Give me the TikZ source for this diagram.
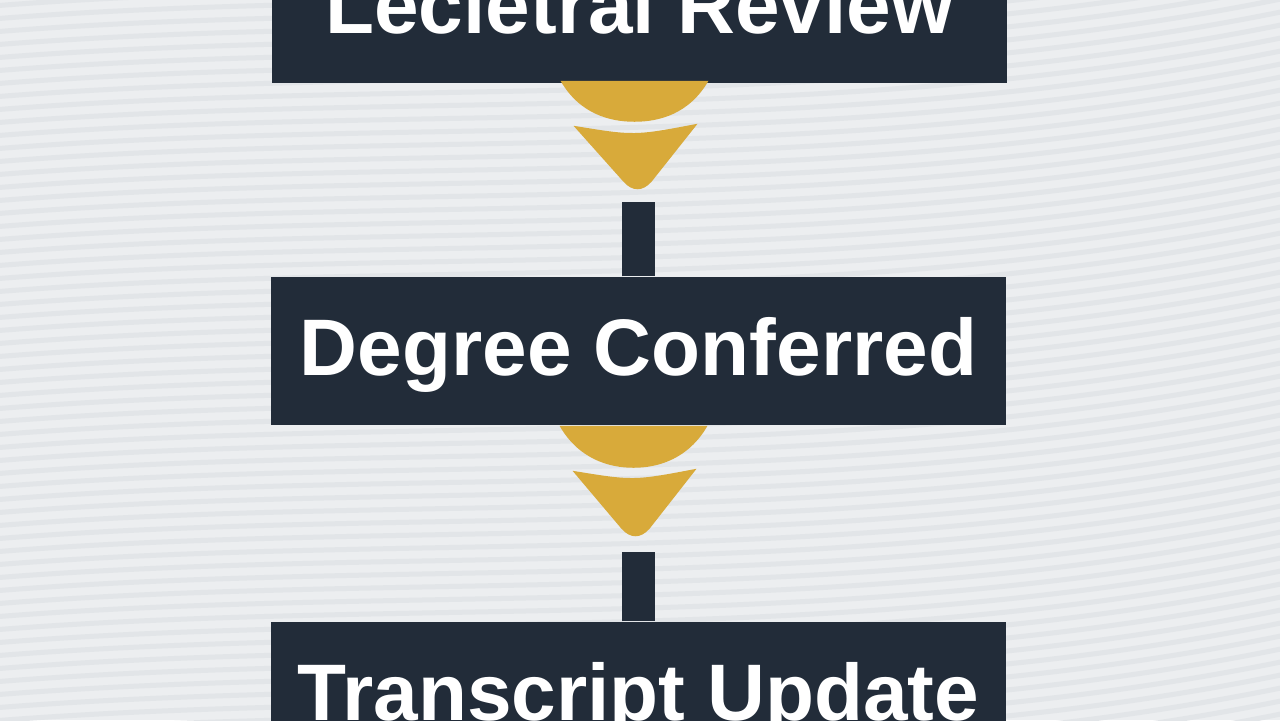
\documentclass[tikz,border=0pt]{standalone}
\usepackage{fontspec}
\setmainfont{Liberation Sans}
\usetikzlibrary{calc}
\definecolor{boxnavy}{HTML}{222C39}
\definecolor{arrowgold}{HTML}{D8AA3A}
\definecolor{paper}{HTML}{ECEEF0}
\definecolor{stripe}{HTML}{E2E5E8}

\begin{document}
\begin{tikzpicture}[x=0.01cm,y=-0.01cm,
    stepbox/.style={fill=boxnavy, text=white, inner sep=0pt,
        minimum width=7.35cm, minimum height=1.48cm,
        text height=0.575cm, text depth=0.09cm,
        font=\fontsize{22.8}{27}\selectfont\bfseries},
    gold/.style={fill=arrowgold},
    stem/.style={draw=boxnavy, line width=0.33cm}]

        \useasboundingbox (0,0) rectangle (1280,720);
        \begin{scope}
            \clip (0,0) rectangle (1280,720);
            \fill[paper] (0,0) rectangle (1280,720);
            \foreach \k in {-4,...,64} {
                \draw[stripe, line width=0.05cm] (-20,\k*13+20) .. controls (400,\k*13-15) and (850,\k*13+25) .. (1300,\k*13-70);
            }
        \end{scope}

        % steps
        \node[stepbox] (review) at (639.5,9) {Lecletral Review};
        \node[stepbox] (degree) at (638.5,351) {Degree Conferred};
        \node[stepbox] (transcript) at (638.5,696) {Transcript Update};

        % stems
        \draw[stem] (degree.north) -- ++(0,-74);
        \draw[stem] (transcript.north) -- ++(0,-69);

        % gold arrows
        \begin{scope}[shift={(review.south)}]
            \fill[gold] (-79,-3) -- (69,-3) .. controls (50,30) and (20,38) .. (-5,38) .. controls (-30,38) and (-60,30) .. cycle;
            \fill[gold] (-66,42) .. controls (-5,52) .. (58,40) -- (12,98) .. controls (3,108) and (-7,108) .. (-16,98) -- cycle;
        \end{scope}
        \begin{scope}[shift={($(degree.south)+(0,3)$)}]
            \fill[gold] (-79,-3) -- (69,-3) .. controls (50,30) and (20,39) .. (-5,39) .. controls (-30,39) and (-60,30) .. cycle;
            \fill[gold] (-66,42) .. controls (-5,52) .. (58,40) -- (11,100) .. controls (2,110) and (-8,110) .. (-17,100) -- cycle;
        \end{scope}

\end{tikzpicture}
\end{document}
